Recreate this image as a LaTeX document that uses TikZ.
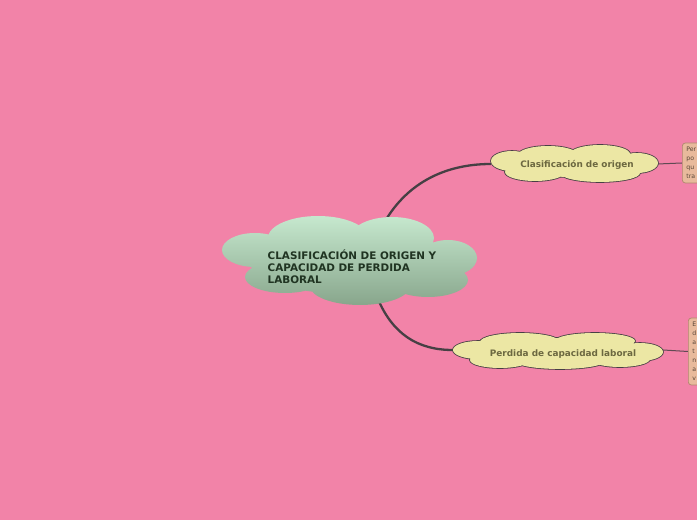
\documentclass[tikz,border=0pt]{standalone}
\usepackage{fontspec}
\setmainfont{DejaVu Sans}
\usepackage{tikz}
\usetikzlibrary{positioning}

\definecolor{bgPink}{RGB}{242,131,168}
\definecolor{mainTop}{RGB}{198,232,206}
\definecolor{mainBottom}{RGB}{136,166,140}
\definecolor{mainText}{RGB}{32,52,34}
\definecolor{subFill}{RGB}{236,231,164}
\definecolor{subText}{RGB}{108,104,64}
\definecolor{noteFill}{RGB}{232,186,156}
\definecolor{noteDraw}{RGB}{176,136,110}
\definecolor{noteText}{RGB}{90,70,56}
\definecolor{linkGray}{RGB}{70,64,68}

\pgfdeclarelayer{background}
\pgfsetlayers{background,main}

\begin{document}
\begin{tikzpicture}[
        x=1pt, y=1pt,
        mainTopic/.style={
            % The shape
            rectangle,
            minimum width=255pt, minimum height=90pt,
            inner sep=0pt,
            % The color
            text=mainText,
            % Font
            font=\bfseries\fontsize{10.4}{12}\selectfont
        },
        subTopic/.style={
            % The shape
            rectangle,
            inner sep=0pt,
            % The color
            text=subText,
            % Font
            font=\bfseries\fontsize{8.9}{10}\selectfont
        },
        note/.style={
            % The shape
            rectangle, rounded corners=3pt,
            inner sep=4pt,
            % The border
            draw=noteDraw, line width=0.7pt,
            % The color
            fill=noteFill,
            text=noteText,
            % Font
            font=\fontsize{6.2}{9}\selectfont
        },
        cloudLine/.style={
            draw=linkGray, line width=1.6pt
        },
        link/.style={
            draw=linkGray, line width=2.3pt
        },
        thinLink/.style={
            draw=linkGray!85!bgPink, line width=1pt
        }
    ]
        \begin{pgfonlayer}{background}
            \fill[bgPink] (0,0) rectangle (697,520);
        \end{pgfonlayer}
        \clip (0,0) rectangle (697,520);

        % main cloud
        \shade[top color=mainTop, bottom color=mainBottom]
            (350,258) ellipse (100 and 32) (255,270) ellipse (33 and 17)
            (318,282) ellipse (50 and 22) (392,282) ellipse (42 and 21)
            (448,262) ellipse (29 and 18) (285,243) ellipse (40 and 16)
            (360,234) ellipse (50 and 19) (428,240) ellipse (40 and 17);

        % top cloud
        \path[cloudLine]
            (574,356) ellipse (65 and 13) (512,359) ellipse (21 and 10)
            (548,365) ellipse (30 and 9) (600,366) ellipse (30 and 9)
            (637,357) ellipse (21 and 10) (535,348) ellipse (30 and 9)
            (600,347) ellipse (40 and 9);
        \fill[subFill]
            (574,356) ellipse (65 and 13) (512,359) ellipse (21 and 10)
            (548,365) ellipse (30 and 9) (600,366) ellipse (30 and 9)
            (637,357) ellipse (21 and 10) (535,348) ellipse (30 and 9)
            (600,347) ellipse (40 and 9);

        % bottom cloud
        \path[cloudLine]
            (558,169) ellipse (85 and 13) (478,170) ellipse (25 and 9)
            (520,178) ellipse (40 and 9) (595,179) ellipse (40 and 8)
            (640,168) ellipse (23 and 9) (500,160) ellipse (30 and 8)
            (560,159) ellipse (45 and 8) (620,161) ellipse (30 and 8);
        \fill[subFill]
            (558,169) ellipse (85 and 13) (478,170) ellipse (25 and 9)
            (520,178) ellipse (40 and 9) (595,179) ellipse (40 and 8)
            (640,168) ellipse (23 and 9) (500,160) ellipse (30 and 8)
            (560,159) ellipse (45 and 8) (620,161) ellipse (30 and 8);

        \node (mainTopic) [mainTopic,align=left] at (350,258) {};
        \node (mainText) [mainTopic,minimum width=0pt,minimum height=0pt,align=left] at (352,253) {CLASIFICACIÓN DE ORIGEN Y \\ CAPACIDAD DE PERDIDA \\ LABORAL};

        \node (origen) [subTopic,minimum width=166pt,minimum height=38pt] at (574,356) {};
        \node (origenText) [subTopic] at (577,355) {Clasificación de origen};
        \begin{pgfonlayer}{background}
            \path[link] ([xshift=33pt,yshift=-8pt]mainTopic.north) .. controls +(22,40) and +(-48,0) .. (origen.west);
        \end{pgfonlayer}

        \node (capacidad) [subTopic,minimum width=210pt,minimum height=40pt] at (558,170) {};
        \node (capacidadText) [subTopic] at (563,166) {Perdida de capacidad laboral};
        \begin{pgfonlayer}{background}
            \path[link] ([xshift=28pt,yshift=8pt]mainTopic.south) .. controls +(15,-35) and +(-35,0) .. (capacidad.west);
        \end{pgfonlayer}

        \node (origenNote) [note,align=left,anchor=west,minimum height=40pt,text width=40pt] at (682,357) {Per\\po\\qu\\tra};
        \begin{pgfonlayer}{background}
            \path[thinLink] (origen.east) -- (origenNote.west);
        \end{pgfonlayer}

        \node (capacidadNote) [note,align=left,anchor=west,minimum height=67pt,text width=40pt] at (688,168.5) {E\\d\\a\\t\\n\\a\\v};
        \begin{pgfonlayer}{background}
            \path[thinLink] (capacidad.east) -- (capacidadNote.west);
        \end{pgfonlayer}

    \end{tikzpicture}
\end{document}
